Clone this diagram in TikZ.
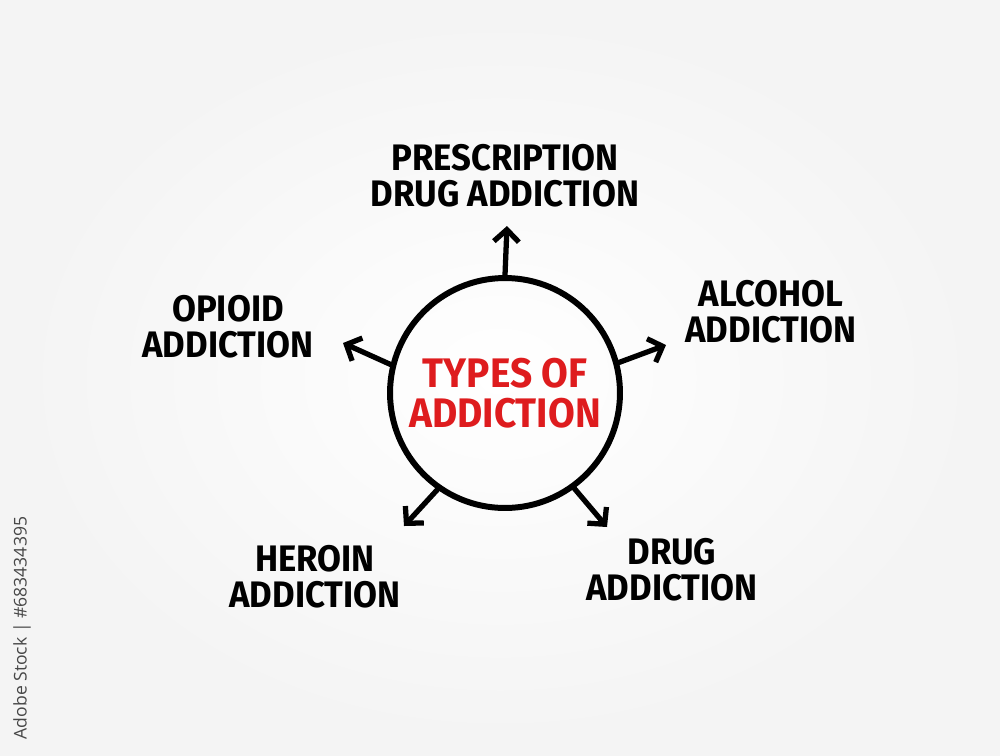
\documentclass[tikz,border=0pt]{standalone}
\usepackage{fontspec}
\usepackage{tikz}
\usepackage{xcolor}
\usetikzlibrary{arrows.meta, positioning}
\newfontfamily\markerfont[FakeStretch=0.94]{Fira Sans}
\newfontfamily\stockfont{Open Sans}
\definecolor{markred}{RGB}{222,28,30}
\tikzset{
  label/.style={font=\markerfont\bfseries\fontsize{21}{20.5}\selectfont, align=center, inner sep=0pt},
  spoke/.style={line width=3pt, line cap=round, -{Straight Barb[length=2.4mm,width=5mm]}}
}

\begin{document}
\begin{tikzpicture}[x=0.02cm,y=-0.02cm]
  % background
  \useasboundingbox (0,0) rectangle (1000,755);
  \shade[inner color=white, outer color=gray!9] (0,0) rectangle (1000,755);
  % middle circle
  \node[circle, draw, line width=3.4pt, minimum size=4.6cm, inner sep=0pt,
        font=\markerfont\bfseries\fontsize{23.5}{22.5}\selectfont, text=markred, align=center]
        (types) at (505,393) {TYPES OF\\ADDICTION};
  % labels
  \node[label] (prescription) at (505,176) {PRESCRIPTION\\DRUG ADDICTION};
  \node[label] (alcohol) at (771,312) {ALCOHOL\\ADDICTION};
  \node[label] (opioid) at (228,327) {OPIOID\\ADDICTION};
  \node[label] (heroin) at (315,577) {HEROIN\\ADDICTION};
  \node[label] (drug) at (672,570) {DRUG\\ADDICTION};
  % arrow tips
  \coordinate (tipP) at (507,226);
  \coordinate (tipA) at (666,345);
  \coordinate (tipO) at (343,343);
  \coordinate (tipH) at (404,526);
  \coordinate (tipD) at (607,527);
  % arrows
  \draw[spoke] (types.90) -- (tipP);
  \draw[spoke] (types.15) -- (tipA);
  \draw[spoke] (types.166) -- (tipO);
  \draw[spoke] (types.235) -- (tipH);
  \draw[spoke] (types.306) -- (tipD);
  % stock id
  \node[rotate=90, text=black!72, font=\stockfont\fontsize{10}{12}\selectfont] (stockid) at (22,628) {Adobe Stock | \#683434395};
\end{tikzpicture}
\end{document}
